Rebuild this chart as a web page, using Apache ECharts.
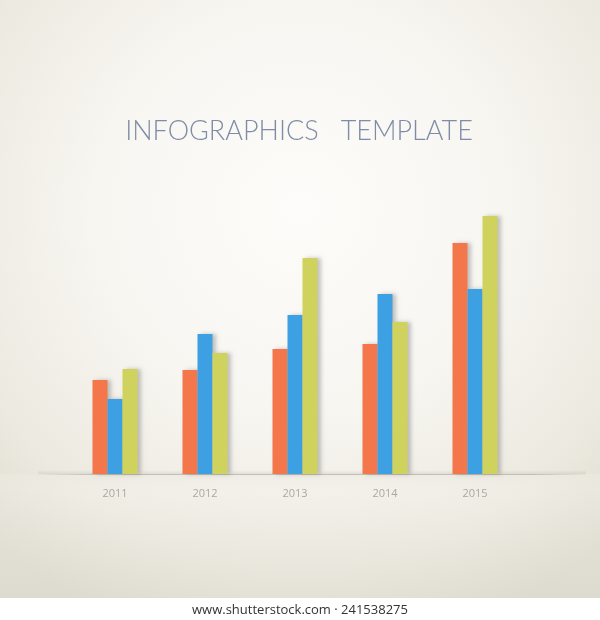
<!DOCTYPE html>
<html>
<head>
<meta charset="utf-8">
<script src="https://cdn.jsdelivr.net/npm/echarts@6/dist/echarts.min.js"></script>
<style>
html,body{margin:0;padding:0;width:600px;height:620px;overflow:hidden;background:#fff;}
#chart{width:600px;height:620px;}
</style>
</head>
<body>
<div id="chart"></div>
<script>
const categories = ['2011', '2012', '2013', '2014', '2015'];
const seriesOrange = [94, 104, 125, 130, 231];
const seriesBlue = [75, 140, 159, 180, 185];
const seriesGreen = [105, 121, 216, 152, 258];
const titleText = 'INFOGRAPHICS   TEMPLATE';
const footerText = 'www.shutterstock.com · 241538275';

const chart = echarts.init(document.getElementById('chart'), null, {renderer: 'canvas'});

function barSeries(name, data, color) {
  return {
    name: name,
    type: 'bar',
    data: data,
    barWidth: 15,
    barGap: '0%',
    z: 5,
    itemStyle: {
      color: color,
      shadowColor: 'rgba(0,0,0,0.22)',
      shadowBlur: 4,
      shadowOffsetX: 3,
      shadowOffsetY: 0
    }
  };
}

chart.setOption({
  animation: false,
  backgroundColor: 'transparent',
  graphic: [
    {
      type: 'rect', z: -10, silent: true,
      shape: {x: 0, y: 0, width: 600, height: 598},
      style: {
        fill: new echarts.graphic.RadialGradient(0.5, 0.35, 0.75, [
          {offset: 0, color: '#fdfcfa'},
          {offset: 0.45, color: '#f8f6f1'},
          {offset: 0.8, color: '#ece9e0'},
          {offset: 1, color: '#dedbd0'}
        ])
      }
    },
    {
      type: 'rect', z: -9, silent: true,
      shape: {x: 0, y: 474, width: 600, height: 124},
      style: {
        fill: new echarts.graphic.LinearGradient(0, 0, 0, 1, [
          {offset: 0, color: 'rgba(236,233,225,0.55)'},
          {offset: 0.15, color: 'rgba(246,244,238,0.3)'},
          {offset: 1, color: 'rgba(220,217,205,0.35)'}
        ])
      }
    },
    {
      type: 'rect', z: -8, silent: true,
      shape: {x: 38, y: 470, width: 548, height: 4},
      style: {
        fill: new echarts.graphic.LinearGradient(0, 0, 0, 1, [
          {offset: 0, color: 'rgba(0,0,0,0)'},
          {offset: 1, color: 'rgba(0,0,0,0.07)'}
        ])
      }
    },
    {
      type: 'line', z: -7, silent: true,
      shape: {x1: 38, y1: 474.5, x2: 586, y2: 474.5},
      style: {
        stroke: new echarts.graphic.LinearGradient(0, 0, 1, 0, [
          {offset: 0, color: 'rgba(190,186,176,0)'},
          {offset: 0.1, color: 'rgba(190,186,176,0.9)'},
          {offset: 0.9, color: 'rgba(190,186,176,0.9)'},
          {offset: 1, color: 'rgba(190,186,176,0)'}
        ]),
        lineWidth: 1
      }
    },
    {
      type: 'rect', z: -6, silent: true,
      shape: {x: 0, y: 598, width: 600, height: 22},
      style: {fill: '#ffffff'}
    },
    {
      type: 'text', z: 10, silent: true,
      x: 299, y: 131,
      style: {
        text: titleText,
        fill: '#7f8ca8',
        font: '300 27px Lato, "Open Sans", sans-serif',
        align: 'center',
        verticalAlign: 'middle'
      }
    },
    {
      type: 'text', z: 10, silent: true,
      x: 300, y: 610,
      style: {
        text: footerText,
        fill: '#333333',
        font: '13px "Open Sans", "Liberation Sans", sans-serif',
        align: 'center',
        verticalAlign: 'middle'
      }
    }
  ],
  grid: {left: 70, right: 80, top: 174, bottom: 146, containLabel: false},
  xAxis: {
    type: 'category',
    data: categories,
    axisLine: {show: false},
    axisTick: {show: false},
    axisLabel: {
      color: '#aaa8a2',
      fontSize: 11,
      fontFamily: '"Open Sans", sans-serif',
      margin: 14
    }
  },
  yAxis: {
    type: 'value',
    min: 0,
    max: 300,
    show: false,
    splitLine: {show: false}
  },
  series: [
    barSeries('A', seriesOrange, '#f4774c'),
    barSeries('B', seriesBlue, '#3da0e2'),
    barSeries('C', seriesGreen, '#cfd35e')
  ]
});
</script>
</body>
</html>
